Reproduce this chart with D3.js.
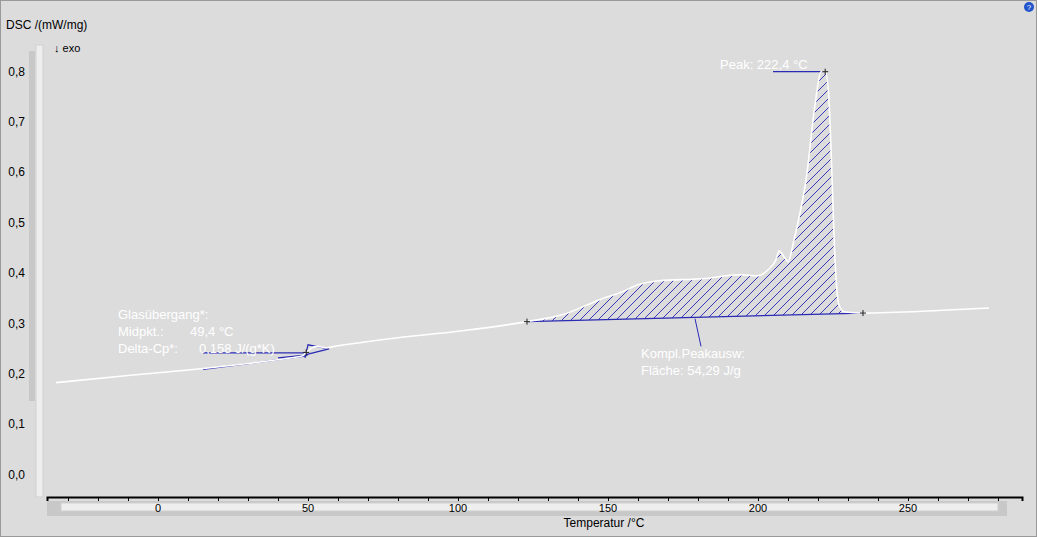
<!DOCTYPE html>
<html><head><meta charset="utf-8">
<script src="https://cdn.jsdelivr.net/npm/d3@7"></script>
<style>body{margin:0;background:#dcdcdc;font-family:Arial,"Liberation Sans",sans-serif}</style>
</head><body><div id="chart"></div>
<script>
// DSC curve (temperature °C, mW/mg)
var temps = [-34,-10,10,30,44,48,49.5,51,53,56,58,80,100,123,135,147,155,160,167,181,194,200,203,206,207,209,210,212,214,216,219,221,222.4,223.5,224.5,225.5,227,229,235,260,277];
var dsc   = [0.183,0.197,0.208,0.221,0.232,0.236,0.243,0.251,0.255,0.252,0.254,0.272,0.285,0.304,0.318,0.347,0.364,0.377,0.385,0.389,0.397,0.395,0.405,0.427,0.444,0.430,0.423,0.466,0.52,0.585,0.734,0.80,0.80,0.76,0.62,0.45,0.337,0.323,0.321,0.326,0.331];
var xTicks = [0,50,100,150,200,250];
var yTicks = [0,0.1,0.2,0.3,0.4,0.5,0.6,0.7,0.8];
var peakStart = [123,0.304], peakEnd = [235,0.321], peakTop = [222.4,0.80];

var W = 1037, H = 537;
var svg = d3.select('#chart').append('svg').attr('width',W).attr('height',H);
var x = d3.scaleLinear().domain([-37,288]).range([47,1022]);
var y = d3.scaleLinear().domain([-0.044,0.853]).range([497,45]);
var fmt = function(v){return d3.format('.1f')(v).replace('.',',');};

svg.append('rect').attr('x',0.5).attr('y',0.5).attr('width',W-1).attr('height',H-1).attr('fill','#dcdcdc').attr('stroke','#999');
svg.append('rect').attr('x',47).attr('y',45).attr('width',975).attr('height',452).attr('fill','#dcdcdc');
// left scrollbar-like strips
svg.append('rect').attr('x',29).attr('y',51).attr('width',6).attr('height',350).attr('fill','#c8c8c8');
svg.append('rect').attr('x',36).attr('y',45).attr('width',7).attr('height',452).attr('fill','#eeeeee').attr('stroke','#cfcfcf');
// bottom strips
svg.append('rect').attr('x',47).attr('y',501).attr('width',960).attr('height',15).attr('fill','#c8c8c8');
svg.append('rect').attr('x',61).attr('y',503).attr('width',937).attr('height',8).attr('fill','#eeeeee').attr('stroke','#cfcfcf');

svg.append('text').attr('x',6).attr('y',29).attr('font-size',12).text('DSC /(mW/mg)');
svg.append('text').attr('x',54).attr('y',52).attr('font-size',11).text('↓ exo');
svg.append('circle').attr('cx',1029).attr('cy',7).attr('r',5).attr('fill','#2255cc');
svg.append('text').attr('x',1029).attr('y',10).attr('font-size',8).attr('fill','#fff').attr('text-anchor','middle').text('?');

svg.selectAll('.yt').data(yTicks).enter().append('text')
  .attr('x',25).attr('y',function(d){return y(d)+4;}).attr('text-anchor','end').attr('font-size',12).text(fmt);

var xa = svg.append('g').attr('transform','translate(0,497)')
  .call(d3.axisBottom(x).tickValues(d3.range(-30,290,10)).tickSize(4).tickFormat(''));
xa.select('.domain').attr('stroke','#000').attr('stroke-width',2);
svg.selectAll('.xt').data(xTicks).enter().append('text')
  .attr('x',function(d){return x(d);}).attr('y',512).attr('text-anchor','middle').attr('font-size',11).text(function(d){return d;});
svg.append('text').attr('x',x(150)-4).attr('y',527).attr('text-anchor','middle').attr('font-size',12).text('Temperatur /°C');

// hatch
var defs = svg.append('defs');
var pat = defs.append('pattern').attr('id','hatch').attr('patternUnits','userSpaceOnUse').attr('width',9).attr('height',9);
pat.append('path').attr('d','M-2,11 L11,-2 M-2,2 L2,-2 M7,11 L11,7').attr('stroke','#3a3ab8').attr('stroke-width',1);
var bl = d3.scaleLinear().domain([peakStart[0],peakEnd[0]]).range([peakStart[1],peakEnd[1]]);
var pk = temps.map(function(t,i){return [t,dsc[i]];}).filter(function(p){return p[0]>=peakStart[0]&&p[0]<=peakEnd[0];});
var area = d3.area().x(function(d){return x(d[0]);}).y0(function(d){return y(bl(d[0]));}).y1(function(d){return y(d[1]);}).curve(d3.curveMonotoneX);
svg.append('path').datum(pk).attr('d',area).attr('fill','url(#hatch)');

var blue = '#2a2ab5';
svg.append('line').attr('x1',x(peakStart[0])).attr('y1',y(peakStart[1])).attr('x2',x(peakEnd[0])).attr('y2',y(peakEnd[1])).attr('stroke',blue).attr('stroke-width',1.3);
svg.append('line').attr('x1',x(205)).attr('y1',y(peakTop[1])).attr('x2',x(peakTop[0])).attr('y2',y(peakTop[1])).attr('stroke',blue).attr('stroke-width',1.3);
svg.append('line').attr('x1',x(179)).attr('y1',y(0.31)).attr('x2',x(181)).attr('y2',y(0.255)).attr('stroke',blue);
// glass transition construction
var gl = [[[15,0.209],[49.4,0.236]],[[15,0.242],[49.4,0.242]],[[49,0.232],[50,0.258],[57,0.25],[49,0.238]],[[40,0.232],[50,0.238]]];
gl.forEach(function(g){svg.append('path').attr('d',d3.line().x(function(d){return x(d[0]);}).y(function(d){return y(d[1]);})(g)).attr('fill','none').attr('stroke',blue).attr('stroke-width',1.2);});

svg.append('path').datum(temps).attr('fill','none').attr('stroke','#fff').attr('stroke-width',1.6)
  .attr('d',d3.line().x(function(d){return x(d);}).y(function(d,i){return y(dsc[i]);}).curve(d3.curveMonotoneX));

[peakStart,peakEnd,peakTop,[49.4,0.243]].forEach(function(p){
  svg.append('path').attr('d','M'+(x(p[0])-3)+','+y(p[1])+'h6M'+x(p[0])+','+(y(p[1])-3)+'v6').attr('stroke','#222');
});

var lbl = function(t,xx,yy){svg.append('text').attr('x',xx).attr('y',yy).attr('fill','#fff').attr('font-size',13).text(t);};
lbl('Glasübergang*:',118,319); lbl('Midpkt.:',118,336); lbl('49,4 °C',190,336);
lbl('Delta-Cp*:',118,353); lbl('0,158 J/(g*K)',199,353);
lbl('Peak: 222,4 °C',720,69);
lbl('Kompl.Peakausw:',641,358); lbl('Fläche:  54,29 J/g',641,375);
</script></body></html>
